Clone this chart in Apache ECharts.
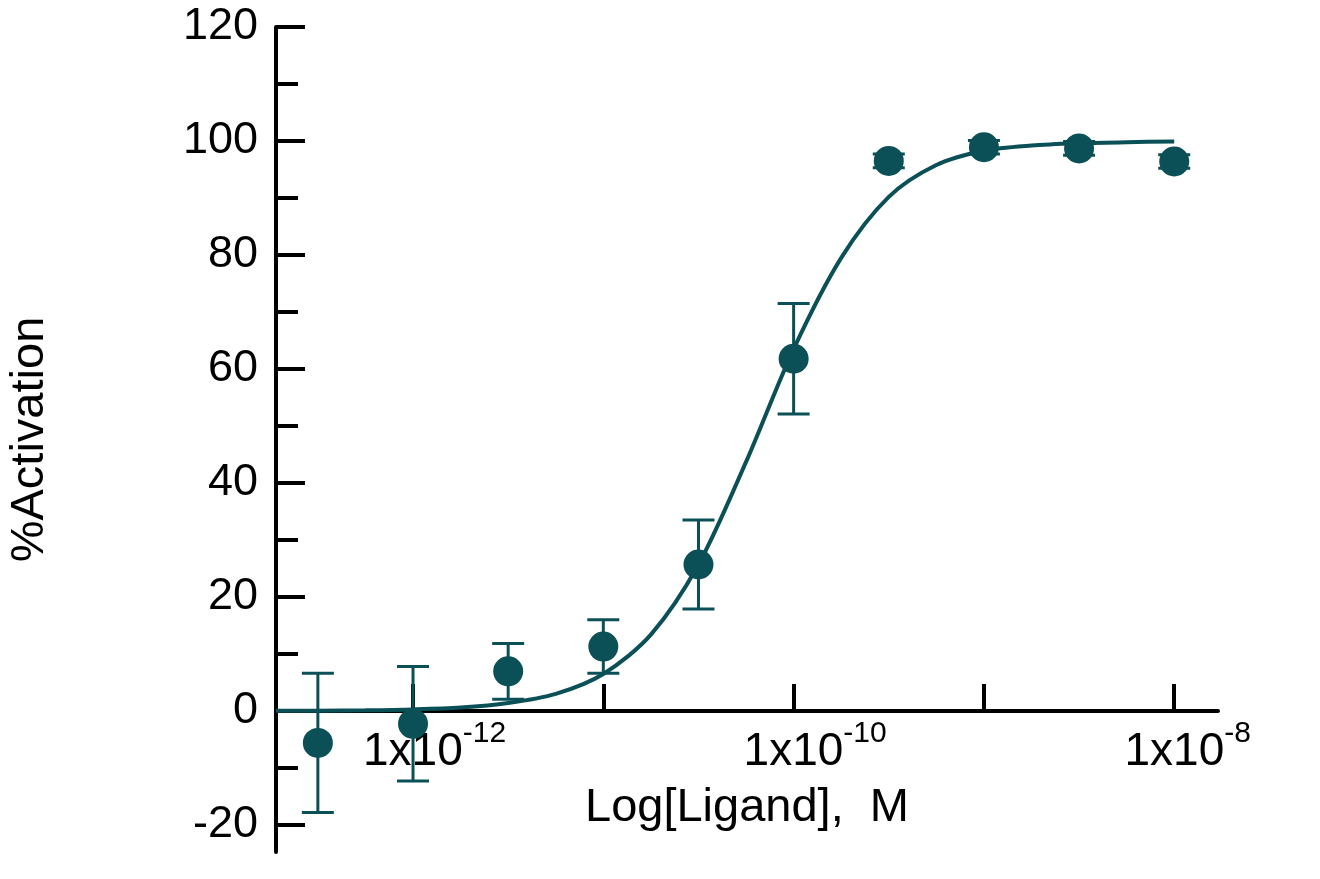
<!DOCTYPE html>
<html>
<head>
<meta charset="utf-8">
<script src="https://cdn.jsdelivr.net/npm/echarts@6/dist/echarts.min.js"></script>
<style>
  html, body { margin: 0; padding: 0; background: #fff; }
  #main { width: 1320px; height: 879px; }
</style>
</head>
<body>
<div id="main"></div>
<script>
// log10 of ligand concentration (M)
var logConc = [-12.5, -12, -11.5, -11, -10.5, -10, -9.5, -9, -8.5, -8];
// mean %activation and error (+/-)
var activation = [-5.6, -2.25, 6.95, 11.3, 25.7, 61.8, 96.5, 98.9, 98.7, 96.4];
var errors = [12.2, 10.05, 4.9, 4.7, 7.8, 9.7, 1.2, 1.2, 1.2, 1.2];

// fitted curve
var curveX = [-12.72, -12.5, -12.25, -12, -11.75, -11.5, -11.25, -11, -10.75, -10.5,
  -10.25, -10, -9.75, -9.5, -9.25, -9, -8.75, -8.5, -8.25, -8];
var curveY = [0.03, 0.06, 0.12, 0.27, 0.6, 1.4, 3.0, 6.5, 13.4, 25.7,
  43.7, 63.5, 79.5, 90.2, 95.8, 98.3, 99.2, 99.6, 99.8, 99.9];

// axis ticks / labels
var xTicks = [-12, -11, -10, -9, -8];
var xLabels = [-12, -10, -8];
var yMinorTicks = [-20, -10, 0, 10, 20, 30, 40, 50, 60, 70, 80, 90, 100, 110, 120];
var yMajorTicks = [-20, 0, 20, 40, 60, 80, 100, 120];

var teal = '#0b5056';
var font = 'Liberation Sans, Arial, sans-serif';

var chart = echarts.init(document.getElementById('main'), null, { renderer: 'canvas' });

function errorBar(params, api) {
  var x = api.value(0);
  var top = api.coord([x, api.value(2)]);
  var bot = api.coord([x, api.value(1)]);
  var w = 16;
  var style = { stroke: teal, lineWidth: 3 };
  return {
    type: 'group',
    children: [
      { type: 'line', shape: { x1: top[0], y1: top[1], x2: bot[0], y2: bot[1] }, style: style },
      { type: 'line', shape: { x1: top[0] - w, y1: top[1], x2: top[0] + w, y2: top[1] }, style: style },
      { type: 'line', shape: { x1: bot[0] - w, y1: bot[1], x2: bot[0] + w, y2: bot[1] }, style: style }
    ]
  };
}

var option = {
  animation: false,
  backgroundColor: '#fff',
  textStyle: { fontFamily: font },
  grid: [
    // data area, y from -24.74 to 120
    { left: 276, right: 102, top: 27, bottom: 27, containLabel: false, outerBoundsMode: 'none' },
    // upper part only, its bottom edge is the y = 0 line, carries the visible x axis
    { left: 276, right: 102, top: 27, bottom: 168, containLabel: false, outerBoundsMode: 'none' }
  ],
  xAxis: [
    {
      gridIndex: 0,
      type: 'value',
      min: -12.72,
      max: -7.77,
      show: false
    },
    {
      gridIndex: 1,
      type: 'value',
      min: -12.72,
      max: -7.77,
      position: 'bottom',
      name: 'Log[Ligand],  M',
      nameLocation: 'middle',
      nameGap: 74,
      nameTextStyle: { fontSize: 47, color: '#000', fontFamily: font },
      axisLine: { onZero: false, lineStyle: { color: '#000', width: 4 } },
      axisTick: { inside: true, length: 27, lineStyle: { color: '#000', width: 4 }, customValues: xTicks },
      axisLabel: {
        customValues: xLabels,
        margin: 8,
        color: '#000',
        formatter: function (v) {
          var e = String(Math.round(v));
          var pad = e.length > 2 ? 'p2' : 'p1';
          return '{' + pad + '| }{b|1x10}{s|' + e + '}';
        },
        rich: {
          b: { fontSize: 46, lineHeight: 66, color: '#000', fontFamily: font },
          s: { fontSize: 30, lineHeight: 30, verticalAlign: 'top', color: '#000', fontFamily: font },
          p1: { width: 27, fontSize: 10 },
          p2: { width: 43, fontSize: 10 }
        }
      },
      splitLine: { show: false }
    }
  ],
  yAxis: [
    {
      gridIndex: 0,
      type: 'value',
      min: -24.74,
      max: 120,
      name: '%Activation',
      nameLocation: 'middle',
      nameGap: 222,
      nameTextStyle: { fontSize: 47, color: '#000', fontFamily: font },
      axisLine: { lineStyle: { color: '#000', width: 4 } },
      axisTick: { inside: true, length: 22, lineStyle: { color: '#000', width: 4 }, customValues: yMinorTicks },
      axisLabel: { customValues: yMajorTicks, margin: 18, fontSize: 45, color: '#000', fontFamily: font },
      splitLine: { show: false }
    },
    {
      gridIndex: 0,
      type: 'value',
      min: -24.74,
      max: 120,
      position: 'left',
      axisLine: { show: false },
      axisTick: { inside: true, length: 29, lineStyle: { color: '#000', width: 4 }, customValues: yMajorTicks },
      axisLabel: { show: false },
      splitLine: { show: false }
    },
    {
      gridIndex: 1,
      type: 'value',
      min: 0,
      max: 120,
      show: false
    }
  ],
  series: [
    {
      type: 'custom',
      renderItem: errorBar,
      encode: { x: 0, y: [1, 2] },
      data: logConc.map(function (x, i) {
        return [x, activation[i] - errors[i], activation[i] + errors[i]];
      }),
      z: 2
    },
    {
      type: 'line',
      data: curveX.map(function (x, i) { return [x, curveY[i]]; }),
      smooth: 0.3,
      showSymbol: false,
      lineStyle: { color: teal, width: 4 },
      z: 3
    },
    {
      type: 'scatter',
      data: logConc.map(function (x, i) { return [x, activation[i]]; }),
      symbol: 'circle',
      symbolSize: 30,
      itemStyle: { color: teal, opacity: 1 },
      z: 4
    }
  ]
};

chart.setOption(option);
</script>
</body>
</html>
